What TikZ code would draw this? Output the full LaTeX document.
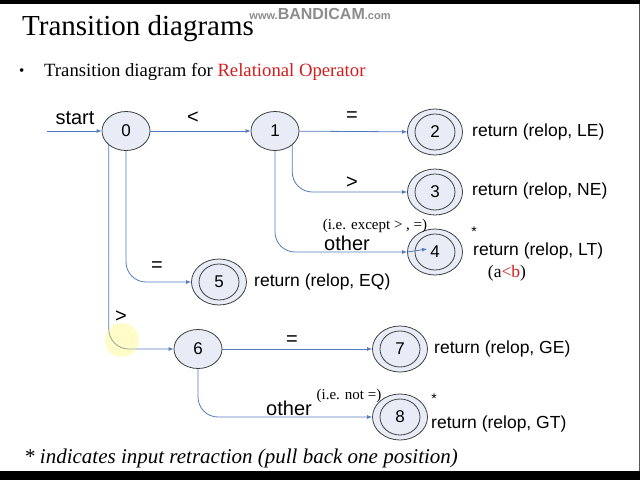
\documentclass[tikz,border=0pt]{standalone}
\usepackage{fontspec}
\setmainfont{Liberation Serif}
\setsansfont{Liberation Sans}
\usetikzlibrary{shapes.geometric,arrows.meta}
\definecolor{statefill}{RGB}{232,236,246}
\definecolor{edgeblue}{RGB}{84,125,190}
\definecolor{relred}{RGB}{210,30,30}
\newcommand{\myfs}[1]{\fontsize{#1}{#1}\selectfont}
\begin{document}
\begin{tikzpicture}[x=1pt,y=-1pt,
  state/.style={ellipse, draw=black!75, line width=0.8pt, fill=statefill, minimum width=48pt, minimum height=39pt, inner sep=0pt, font=\sffamily\myfs{17}},
  accept/.style={state, minimum width=55pt, minimum height=46pt,
    path picture={\draw[black!75, line width=0.8pt] (path picture bounding box.center) ellipse (20pt and 18pt);}},
  edge/.style={draw=edgeblue, line width=0.8pt, -{Latex[length=5pt,width=4pt]}},
  bent/.style={edge, rounded corners=20pt},
  lbl/.style={font=\sffamily\myfs{20}, inner sep=0pt},
  ret/.style={font=\sffamily\myfs{17.5}, anchor=west, inner sep=0pt},
  note/.style={font=\myfs{15}, inner sep=0pt},
  star/.style={font=\sffamily\myfs{14}, inner sep=0pt}]
\useasboundingbox (0,0) rectangle (640,480);
\fill[white] (0,0) rectangle (640,480);
\fill[black] (0,0) rectangle (640,4);
\fill[black] (0,471) rectangle (640,480);
\fill[black!65] (638.5,4) rectangle (640,471);

% header
\node[anchor=base west, inner sep=0pt, font=\myfs{29}] (title) at (22,35) {Transition diagrams};
\node[font=\sffamily\bfseries, text=black!45, inner sep=0pt] (wm) at (320,14) {{\myfs{11}www.}{\myfs{16}BANDICAM}{\myfs{11}.com}};
\node[anchor=base west, inner sep=0pt, font=\myfs{15}] (bul) at (19,75) {\textbullet};
\node[anchor=base west, inner sep=0pt, font=\myfs{18.7}] (sub) at (44,76) {Transition diagram for \textcolor{relred}{Relational Operator}};

% states
\node[state] (s0) at (126,131) {0};
\node[state] (s1) at (275,131) {1};
\node[accept] (s2) at (435,132) {2};
\node[accept] (s3) at (435,192) {3};
\node[accept] (s4) at (435,252) {4};
\node[accept] (s5) at (219,282) {5};
\node[state] (s6) at (198,349) {6};
\node[accept] (s7) at (400,349) {7};
\node[accept] (s8) at (400,417) {8};

% edges
\coordinate (st) at (47,131);
\draw[edge] (st) -- (s0);
\draw[edge] (s0) -- (s1);
\draw[edge] (s1) -- (s2);
\draw[bent] (s1.south east) |- (s3.west);
\draw[bent] (s1.south) |- (s4.west);
\draw[edge] (s4.west) -- ++(20,-3);
\draw[bent] (s0.south) |- (s5.west);
\draw[bent] (s0.south west) |- (s6.west);
\draw[edge] (s6) -- (s7);
\draw[bent] (s6.south) |- (s8.west);

% edge labels
\node[lbl] (lstart) at (75,118) {start};
\node[lbl] (llt) at (193,118) {<};
\node[lbl] (leq1) at (352,117) {=};
\node[lbl] (lgt1) at (352,183) {>};
\node[note] (lexc) at (375,226) {(i.e. except > , =)};
\node[lbl] (loth1) at (347,243) {other};
\node[lbl] (leq0) at (157,267) {=};
\node[lbl] (lgt0) at (121,317) {>};
\node[lbl] (leq6) at (292,341) {=};
\node[lbl] (loth6) at (289,408) {other};
\node[note] (lnot) at (349,396) {(i.e. not =)};

% stars and returns
\node[star] (st4) at (474,232) {*};
\node[star] (st8) at (434,399) {*};
\node[ret] (r2) at (472,132) {return (relop, LE)};
\node[ret] (r3) at (472,191) {return (relop, NE)};
\node[ret] (r4) at (473,251) {return (relop, LT)};
\node[font=\myfs{17.5}, inner sep=0pt] (ab) at (507,273) {(a\textcolor{relred}{<b})};
\node[ret] (r5) at (254,282) {return (relop, EQ)};
\node[ret] (r7) at (434,349) {return (relop, GE)};
\node[ret] (r8) at (431,424) {return (relop, GT)};

% footer
\node[anchor=base west, inner sep=0pt, font=\itshape\myfs{21}] (foot) at (24,463) {* indicates input retraction (pull back one position)};

% cursor highlight
\fill[yellow!60, opacity=0.35] (122,340) circle (17);
\end{tikzpicture}
\end{document}
